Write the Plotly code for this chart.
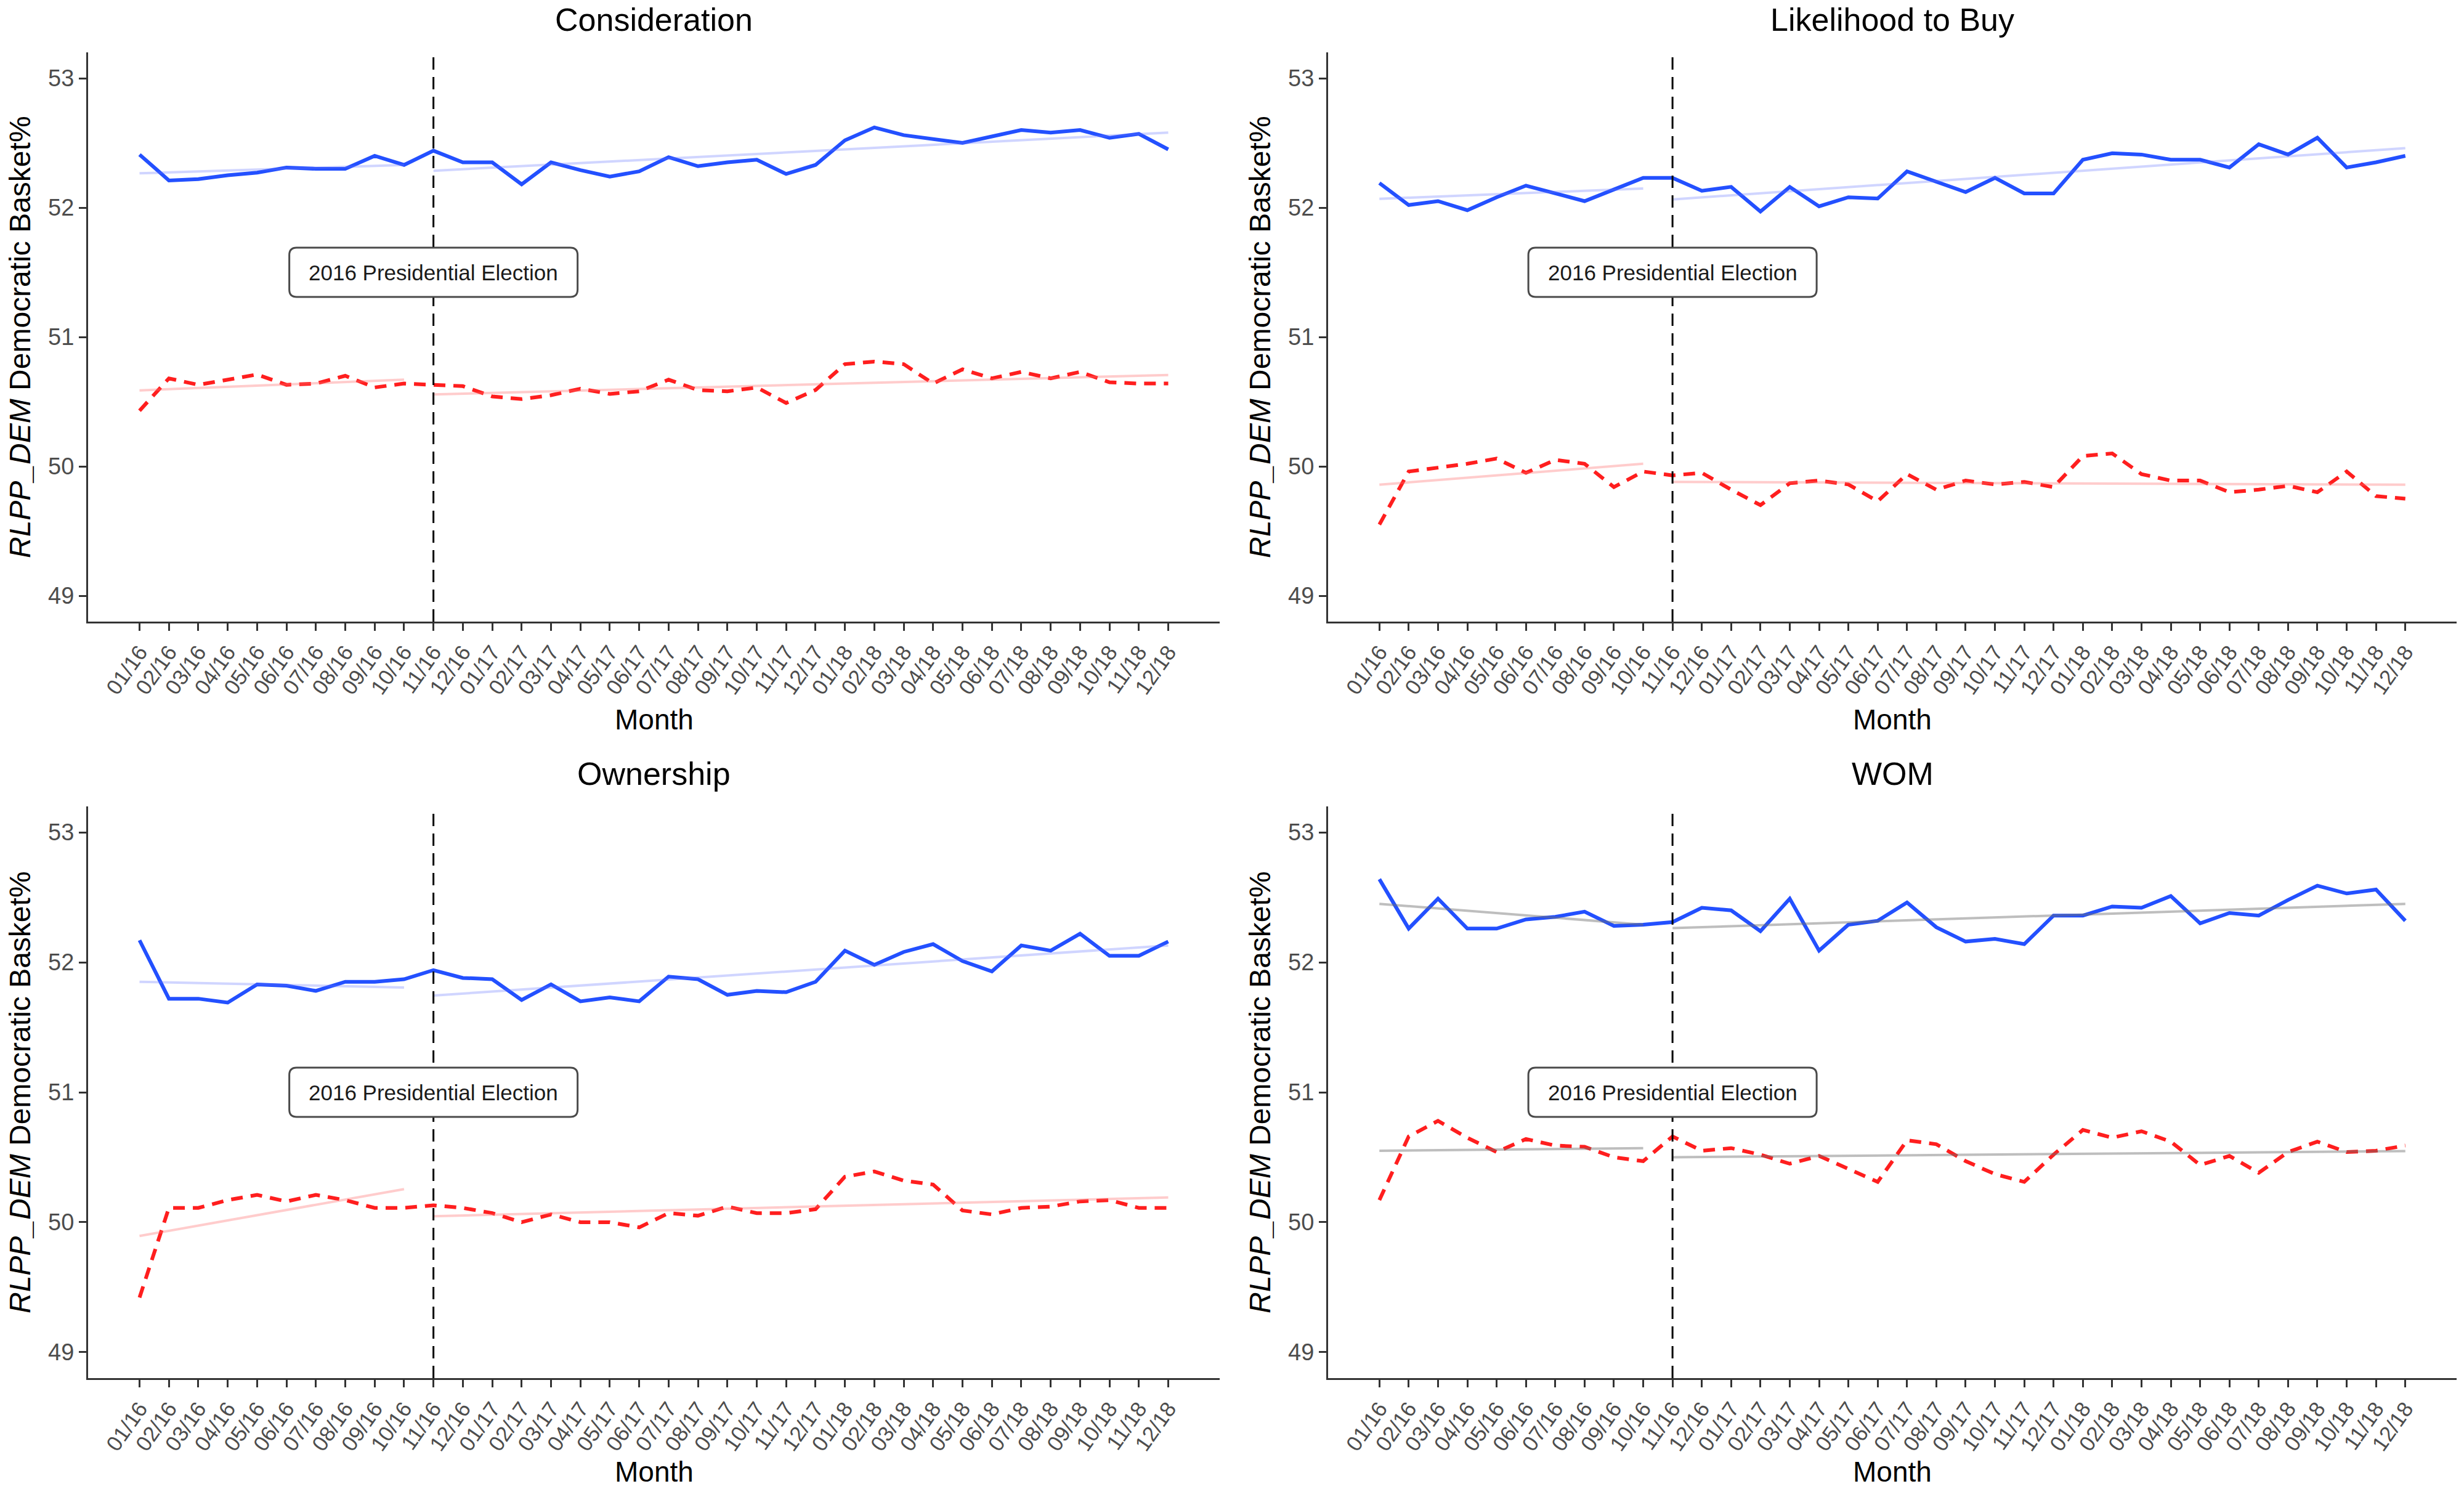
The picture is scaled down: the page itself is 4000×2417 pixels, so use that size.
import plotly.graph_objects as go

# ---------------- data ----------------
months = ["01/16", "02/16", "03/16", "04/16", "05/16", "06/16", "07/16", "08/16", "09/16", "10/16", "11/16", "12/16",
          "01/17", "02/17", "03/17", "04/17", "05/17", "06/17", "07/17", "08/17", "09/17", "10/17", "11/17", "12/17",
          "01/18", "02/18", "03/18", "04/18", "05/18", "06/18", "07/18", "08/18", "09/18", "10/18", "11/18", "12/18"]
election_month = "11/16"
election_label = "2016 Presidential Election"
y_ticks = [49, 50, 51, 52, 53]
y_limits = [49, 53]

panel_titles = ["Consideration", "Likelihood to Buy", "Ownership", "WOM"]
label_y = [51.5, 51.5, 51.0, 51.0]

consideration_dem = [52.41, 52.21, 52.22, 52.25, 52.27, 52.31, 52.30, 52.30, 52.40, 52.33, 52.44, 52.35,
                     52.35, 52.18, 52.35, 52.29, 52.24, 52.28, 52.39, 52.32, 52.35, 52.37, 52.26, 52.33,
                     52.52, 52.62, 52.56, 52.53, 52.50, 52.55, 52.60, 52.58, 52.60, 52.54, 52.57, 52.45]
consideration_rep = [50.43, 50.68, 50.63, 50.67, 50.71, 50.63, 50.64, 50.70, 50.61, 50.64, 50.63, 50.62,
                     50.54, 50.52, 50.55, 50.60, 50.56, 50.58, 50.67, 50.59, 50.58, 50.61, 50.49, 50.59,
                     50.79, 50.81, 50.79, 50.64, 50.75, 50.68, 50.73, 50.68, 50.73, 50.65, 50.64, 50.64]
likelihood_dem = [52.19, 52.02, 52.05, 51.98, 52.08, 52.17, 52.11, 52.05, 52.14, 52.23, 52.23, 52.13,
                  52.16, 51.97, 52.16, 52.01, 52.08, 52.07, 52.28, 52.20, 52.12, 52.23, 52.11, 52.11,
                  52.37, 52.42, 52.41, 52.37, 52.37, 52.31, 52.49, 52.41, 52.54, 52.31, 52.35, 52.40]
likelihood_rep = [49.55, 49.96, 49.99, 50.02, 50.06, 49.95, 50.05, 50.02, 49.84, 49.96, 49.93, 49.95,
                  49.82, 49.70, 49.87, 49.89, 49.86, 49.73, 49.94, 49.82, 49.89, 49.86, 49.88, 49.84,
                  50.08, 50.10, 49.94, 49.89, 49.89, 49.80, 49.82, 49.85, 49.80, 49.96, 49.77, 49.75]
ownership_dem = [52.17, 51.72, 51.72, 51.69, 51.83, 51.82, 51.78, 51.85, 51.85, 51.87, 51.94, 51.88,
                 51.87, 51.71, 51.83, 51.70, 51.73, 51.70, 51.89, 51.87, 51.75, 51.78, 51.77, 51.85,
                 52.09, 51.98, 52.08, 52.14, 52.01, 51.93, 52.13, 52.09, 52.22, 52.05, 52.05, 52.16]
ownership_rep = [49.42, 50.11, 50.11, 50.17, 50.21, 50.16, 50.21, 50.17, 50.11, 50.11, 50.13, 50.11,
                 50.07, 50.00, 50.06, 50.00, 50.00, 49.96, 50.07, 50.05, 50.12, 50.07, 50.07, 50.10,
                 50.35, 50.39, 50.32, 50.29, 50.09, 50.06, 50.11, 50.12, 50.16, 50.17, 50.11, 50.11]
wom_dem = [52.64, 52.26, 52.49, 52.26, 52.26, 52.33, 52.35, 52.39, 52.28, 52.29, 52.31, 52.42,
           52.40, 52.24, 52.49, 52.09, 52.29, 52.32, 52.46, 52.27, 52.16, 52.18, 52.14, 52.36,
           52.36, 52.43, 52.42, 52.51, 52.30, 52.38, 52.36, 52.48, 52.59, 52.53, 52.56, 52.32]
wom_rep = [50.17, 50.66, 50.78, 50.65, 50.54, 50.64, 50.59, 50.58, 50.50, 50.47, 50.66, 50.55,
           50.57, 50.52, 50.45, 50.51, 50.41, 50.31, 50.63, 50.60, 50.47, 50.37, 50.31, 50.52,
           50.71, 50.65, 50.70, 50.62, 50.44, 50.51, 50.38, 50.54, 50.62, 50.54, 50.55, 50.59]

# fitted trend lines: [start, end] before and after the election
consideration_dem_pre = [52.265, 52.33]
consideration_dem_post = [52.285, 52.58]
consideration_rep_pre = [50.587, 50.67]
consideration_rep_post = [50.556, 50.706]
likelihood_dem_pre = [52.068, 52.148]
likelihood_dem_post = [52.063, 52.46]
likelihood_rep_pre = [49.858, 50.02]
likelihood_rep_post = [49.88, 49.858]
ownership_dem_pre = [51.85, 51.806]
ownership_dem_post = [51.744, 52.13]
ownership_rep_pre = [49.894, 50.254]
ownership_rep_post = [50.046, 50.19]
wom_dem_pre = [52.45, 52.29]
wom_dem_post = [52.263, 52.45]
wom_rep_pre = [50.55, 50.57]
wom_rep_post = [50.50, 50.547]

panel_data = [
    (consideration_dem, consideration_rep, consideration_dem_pre, consideration_dem_post,
     consideration_rep_pre, consideration_rep_post),
    (likelihood_dem, likelihood_rep, likelihood_dem_pre, likelihood_dem_post,
     likelihood_rep_pre, likelihood_rep_post),
    (ownership_dem, ownership_rep, ownership_dem_pre, ownership_dem_post,
     ownership_rep_pre, ownership_rep_post),
    (wom_dem, wom_rep, wom_dem_pre, wom_dem_post, wom_rep_pre, wom_rep_post),
]

# ---------------- styling / layout ----------------
W, H = 4000, 2417
FONT = "Liberation Sans, Arial, Helvetica, sans-serif"
BLUE = "#2350FF"
RED = "#FF1E1E"
trend_colors = [
    ("rgba(100,115,255,0.30)", "rgba(255,110,110,0.35)"),
    ("rgba(100,115,255,0.30)", "rgba(255,110,110,0.35)"),
    ("rgba(100,115,255,0.30)", "rgba(255,110,110,0.35)"),
    ("rgba(110,110,110,0.45)", "rgba(110,110,110,0.45)"),
]

# plot-area pixel boxes (left, right, top, bottom)
boxes = [
    (143, 1980, 85, 1009),
    (2156, 3988, 85, 1009),
    (143, 1980, 1309, 2237),
    (2156, 3988, 1309, 2237),
]
title_y_px = [32, 32, 1256, 1256]
month_y_px = [1168, 1168, 2389, 2389]
ytitle_x_px = [32, 2045, 32, 2045]

# rounded label box, in pixels around its anchor
BW, BH, BR = 468, 80, 12
hw, hh = BW / 2, BH / 2
box_path = (f"M {-hw + BR},{-hh} L {hw - BR},{-hh} Q {hw},{-hh} {hw},{-hh + BR} "
            f"L {hw},{hh - BR} Q {hw},{hh} {hw - BR},{hh} L {-hw + BR},{hh} "
            f"Q {-hw},{hh} {-hw},{hh - BR} L {-hw},{-hh + BR} Q {-hw},{-hh} {-hw + BR},{-hh} Z")

ipos = months.index(election_month)
pre_x = [months[0], months[ipos - 1]]
post_x = [months[ipos], months[-1]]

pad = 0.05 * (y_limits[1] - y_limits[0])
y_range = [y_limits[0] - pad, y_limits[1] + pad]
xpad = 0.05 * (len(months) - 1)
x_range = [-xpad, len(months) - 1 + xpad]

fig = go.Figure()
layout = dict(
    width=W, height=H, autosize=False,
    margin=dict(l=0, r=0, t=0, b=0),
    paper_bgcolor="white", plot_bgcolor="white",
    showlegend=False,
    font=dict(family=FONT, color="#1a1a1a"),
)
annotations = []
shapes = []

for i, (dem, rep, dpre, dpost, rpre, rpost) in enumerate(panel_data):
    n = i + 1
    xa = "x" if n == 1 else f"x{n}"
    ya = "y" if n == 1 else f"y{n}"
    l, r, t, b = boxes[i]
    layout["xaxis" if n == 1 else f"xaxis{n}"] = dict(
        domain=[l / W, r / W], anchor=ya, type="category",
        categoryorder="array", categoryarray=months,
        range=x_range, tickmode="array", tickvals=months, ticktext=months,
        tickangle=-55, tickfont=dict(size=35, color="#4D4D4D", family=FONT),
        showline=True, linecolor="#333333", linewidth=3,
        ticks="outside", ticklen=12, tickwidth=3, tickcolor="#333333",
        showgrid=False, zeroline=False, fixedrange=True,
    )
    layout["yaxis" if n == 1 else f"yaxis{n}"] = dict(
        domain=[1 - b / H, 1 - t / H], anchor=xa,
        range=y_range, tickvals=y_ticks, ticktext=[str(v) for v in y_ticks],
        tickfont=dict(size=38, color="#4D4D4D", family=FONT),
        showline=True, linecolor="#333333", linewidth=3,
        ticks="outside", ticklen=12, tickwidth=3, tickcolor="#333333",
        showgrid=False, zeroline=False, fixedrange=True,
    )

    fig.add_trace(go.Scatter(x=months, y=dem, mode="lines", xaxis=xa, yaxis=ya,
                             line=dict(color=BLUE, width=6)))
    fig.add_trace(go.Scatter(x=months, y=rep, mode="lines", xaxis=xa, yaxis=ya,
                             line=dict(color=RED, width=6, dash="19px,13px")))
    tc_dem, tc_rep = trend_colors[i]
    for xs, ys, c in [(pre_x, dpre, tc_dem), (post_x, dpost, tc_dem),
                      (pre_x, rpre, tc_rep), (post_x, rpost, tc_rep)]:
        fig.add_trace(go.Scatter(x=xs, y=ys, mode="lines", xaxis=xa, yaxis=ya,
                                 line=dict(color=c, width=4)))

    shapes.append(dict(type="line", xref=xa, yref=f"{ya} domain",
                       x0=election_month, x1=election_month, y0=0, y1=1,
                       line=dict(color="black", width=3, dash="20px,12px"), layer="above"))
    shapes.append(dict(type="path", xref=xa, yref=ya,
                       xsizemode="pixel", ysizemode="pixel",
                       xanchor=election_month, yanchor=label_y[i], path=box_path,
                       fillcolor="white", line=dict(color="#4a4a4a", width=3), layer="above"))

    annotations.append(dict(
        xref=xa, yref=ya, x=election_month, y=label_y[i], text=election_label,
        showarrow=False, font=dict(size=35, color="#1a1a1a", family=FONT),
        xanchor="center", yanchor="middle"))

    cx = (l + r) / 2 / W
    annotations.append(dict(xref="paper", yref="paper", x=cx, y=1 - title_y_px[i] / H,
                            text=panel_titles[i], showarrow=False,
                            font=dict(size=52, color="black", family=FONT),
                            xanchor="center", yanchor="middle"))
    annotations.append(dict(xref="paper", yref="paper", x=cx, y=1 - month_y_px[i] / H,
                            text="Month", showarrow=False,
                            font=dict(size=46, color="black", family=FONT),
                            xanchor="center", yanchor="middle"))
    annotations.append(dict(xref="paper", yref="paper", x=ytitle_x_px[i] / W,
                            y=1 - (t + b) / 2 / H,
                            text="<i>RLPP_DEM</i> Democratic Basket%", textangle=-90,
                            showarrow=False,
                            font=dict(size=48, color="black", family=FONT),
                            xanchor="center", yanchor="middle"))

layout["annotations"] = annotations
layout["shapes"] = shapes
fig.update_layout(**layout)
fig.write_html("out.html")
